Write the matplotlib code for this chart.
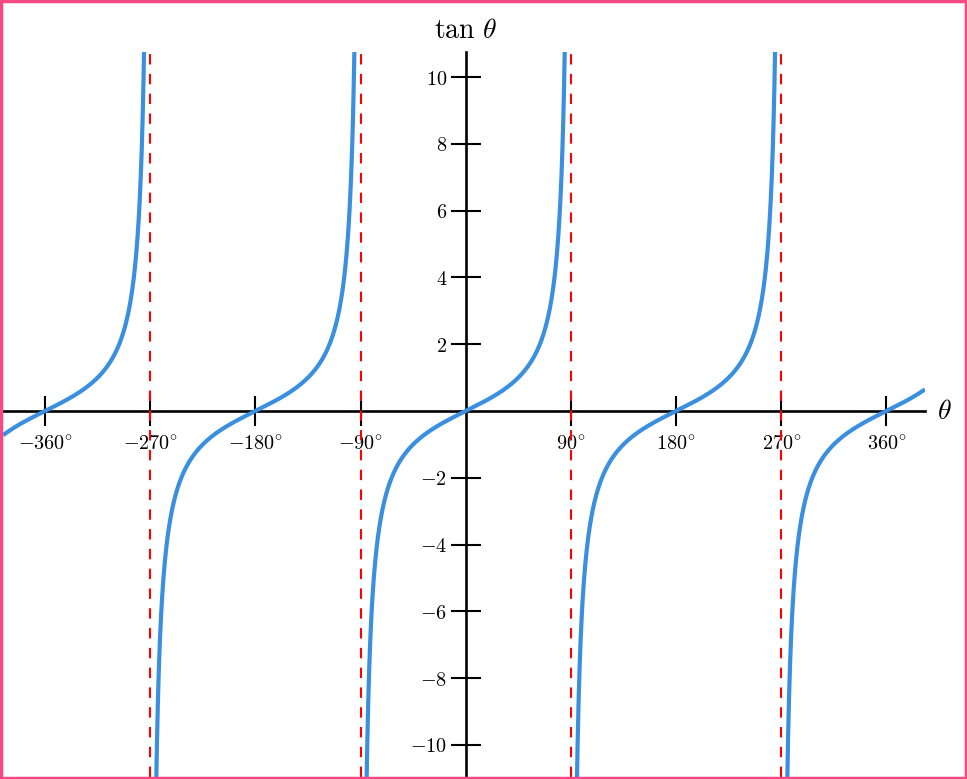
import numpy as np
import matplotlib
matplotlib.use('Agg')
import matplotlib.pyplot as plt
from matplotlib.patches import Rectangle

plt.rcParams['mathtext.fontset'] = 'cm'

# chart data
theta_min, theta_max = -396, 393
asymptotes = [-270, -90, 90, 270]
x_ticks = [-360, -270, -180, -90, 90, 180, 270, 360]
y_ticks = [-10, -8, -6, -4, -2, 2, 4, 6, 8, 10]

curve_color = '#3b8fe0'
fig = plt.figure(figsize=(9.67, 7.79), dpi=100)
ax = fig.add_axes([3 / 967, 2 / 779, 922 / 967, 725 / 779])

# one branch of tan between each pair of asymptotes
edges = [theta_min] + asymptotes + [theta_max]
for a, b in zip(edges[:-1], edges[1:]):
    t = np.linspace(a + 0.05, b - 0.05, 800)
    ax.plot(t, np.tan(np.radians(t)), color=curve_color, lw=3, zorder=3, solid_capstyle='butt')

for xa in asymptotes:
    ax.axvline(xa, color='red', lw=1.5, dashes=(5, 4.5), zorder=2)

ax.set_xlim(theta_min, theta_max)
ax.set_ylim(-10.96, 10.75)

for s in ['top', 'right']:
    ax.spines[s].set_visible(False)
ax.spines['left'].set_position(('data', 0))
ax.spines['bottom'].set_position(('data', 0))
ax.spines['left'].set_linewidth(1.9)
ax.spines['bottom'].set_linewidth(1.9)
ax.spines['left'].set_zorder(1)
ax.spines['bottom'].set_zorder(1)

ax.set_xticks(x_ticks)
ax.set_xticklabels([r'$%d^{\circ}$' % v for v in x_ticks])
ax.set_yticks(y_ticks)
ax.set_yticklabels([r'$%d$' % v for v in y_ticks])
ax.tick_params(axis='x', direction='inout', length=21, width=1.5, pad=6.5, labelsize=14.5)
ax.tick_params(axis='y', direction='inout', length=21, width=1.5, pad=3, labelsize=14.5)

ax.text(0, 10.75 + 0.67, r'$\tan\,\theta$', ha='center', va='center', fontsize=20)
ax.text(theta_max + 10, 0, r'$\theta$', ha='left', va='center', fontsize=20, clip_on=False)

fig.patches.append(Rectangle((0.0015, 0.0015), 0.997, 0.997, transform=fig.transFigure,
                             fill=False, edgecolor='#f74a85', lw=2.5, zorder=10))

fig.savefig('out.png', dpi=100)
